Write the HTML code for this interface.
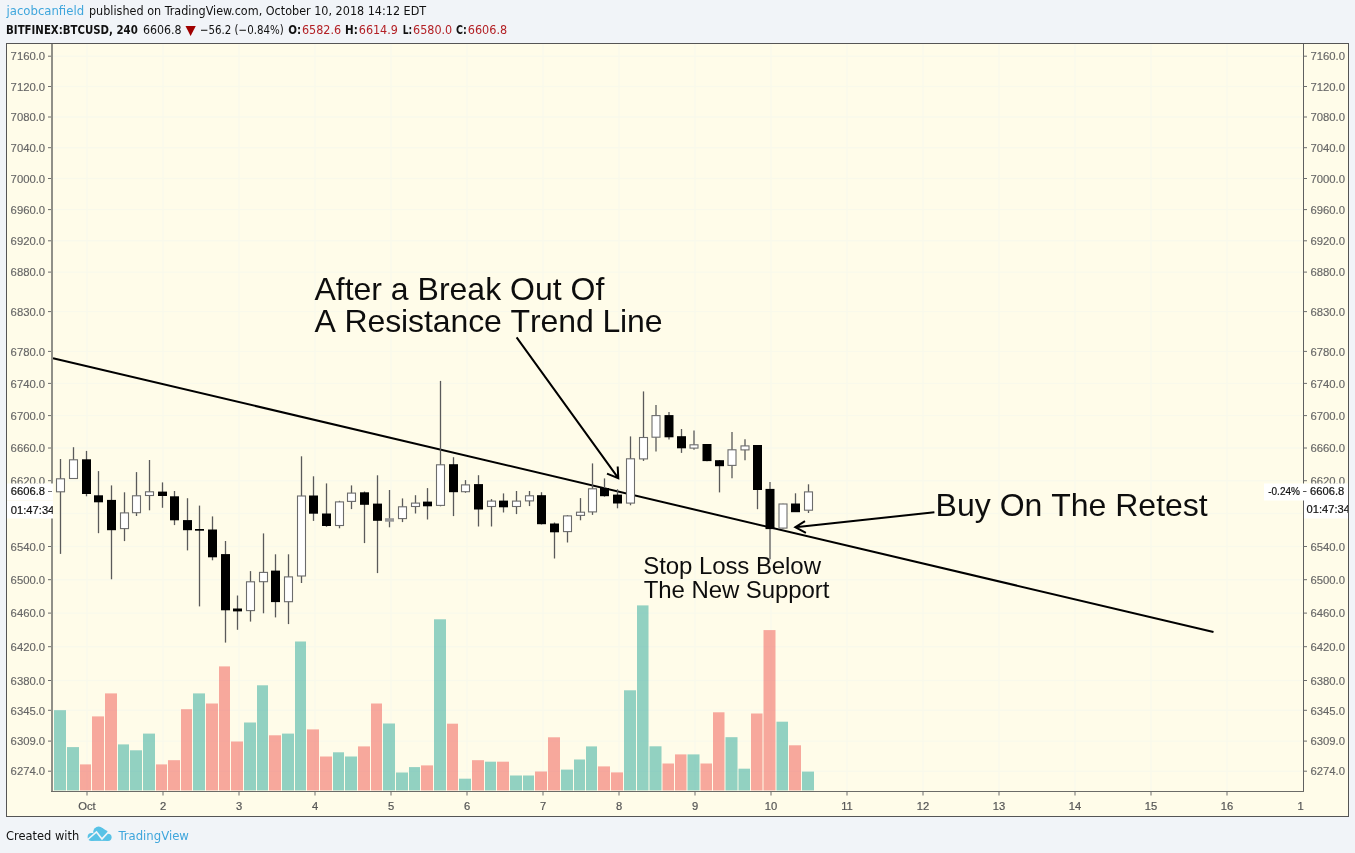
<!DOCTYPE html>
<html><head><meta charset="utf-8"><title>BTCUSD chart</title>
<style>html,body{margin:0;padding:0;background:#f1f4f8;}body{width:1355px;height:853px;position:relative;overflow:hidden;font-family:"Liberation Sans",Arial,sans-serif}</style>
</head><body>
<svg width="1355" height="853" viewBox="0 0 1355 853" style="position:absolute;left:0;top:0;display:block">
<rect width="1355" height="853" fill="#f1f4f8"/>
<defs><filter id="soft" filterUnits="userSpaceOnUse" x="0" y="36" width="1355" height="790"><feGaussianBlur stdDeviation="0.33"/></filter></defs>
<g filter="url(#soft)">
<rect x="6.5" y="43.5" width="1342" height="773" fill="#fffce9" stroke="#555" stroke-width="1"/>
<path d="M53 56.2H1303.5 M53 86.5H1303.5 M53 117.0H1303.5 M53 147.7H1303.5 M53 178.5H1303.5 M53 209.6H1303.5 M53 240.8H1303.5 M53 272.1H1303.5 M53 311.6H1303.5 M53 351.4H1303.5 M53 383.4H1303.5 M53 415.6H1303.5 M53 448.0H1303.5 M53 480.7H1303.5 M53 546.5H1303.5 M53 579.7H1303.5 M53 613.1H1303.5 M53 646.7H1303.5 M53 680.5H1303.5 M53 710.3H1303.5 M53 741.1H1303.5 M53 771.2H1303.5 M53 513.5H1303.5 M87.0 44V791 M163.0 44V791 M239.0 44V791 M315.0 44V791 M391.0 44V791 M467.0 44V791 M543.0 44V791 M619.0 44V791 M695.0 44V791 M771.0 44V791 M847.0 44V791 M923.0 44V791 M999.0 44V791 M1075.0 44V791 M1151.0 44V791 M1227.0 44V791" stroke="#f9f9eb" stroke-width="1.4" fill="none"/>
<rect x="54.0" y="710.2" width="12.0" height="80.2" fill="#26a69a" fill-opacity=".5"/>
<rect x="67.0" y="747.1" width="12.0" height="43.3" fill="#26a69a" fill-opacity=".5"/>
<rect x="80.0" y="764.4" width="11.0" height="26.0" fill="#ef5350" fill-opacity=".5"/>
<rect x="92.0" y="716.4" width="12.0" height="74.0" fill="#ef5350" fill-opacity=".5"/>
<rect x="105.0" y="693.4" width="12.0" height="97.0" fill="#ef5350" fill-opacity=".5"/>
<rect x="118.0" y="744.4" width="11.0" height="46.0" fill="#26a69a" fill-opacity=".5"/>
<rect x="130.0" y="750.3" width="12.0" height="40.1" fill="#26a69a" fill-opacity=".5"/>
<rect x="143.0" y="733.6" width="12.0" height="56.8" fill="#26a69a" fill-opacity=".5"/>
<rect x="156.0" y="764.4" width="11.0" height="26.0" fill="#ef5350" fill-opacity=".5"/>
<rect x="168.0" y="760.2" width="12.0" height="30.2" fill="#ef5350" fill-opacity=".5"/>
<rect x="181.0" y="709.2" width="11.0" height="81.2" fill="#ef5350" fill-opacity=".5"/>
<rect x="193.0" y="693.4" width="12.0" height="97.0" fill="#26a69a" fill-opacity=".5"/>
<rect x="206.0" y="703.5" width="12.0" height="86.9" fill="#ef5350" fill-opacity=".5"/>
<rect x="219.0" y="666.4" width="11.0" height="124.0" fill="#ef5350" fill-opacity=".5"/>
<rect x="231.0" y="741.5" width="12.0" height="48.9" fill="#ef5350" fill-opacity=".5"/>
<rect x="244.0" y="722.5" width="12.0" height="67.9" fill="#26a69a" fill-opacity=".5"/>
<rect x="257.0" y="685.3" width="11.0" height="105.1" fill="#26a69a" fill-opacity=".5"/>
<rect x="269.0" y="735.3" width="12.0" height="55.1" fill="#ef5350" fill-opacity=".5"/>
<rect x="282.0" y="733.6" width="12.0" height="56.8" fill="#26a69a" fill-opacity=".5"/>
<rect x="295.0" y="641.5" width="11.0" height="148.9" fill="#26a69a" fill-opacity=".5"/>
<rect x="307.0" y="729.4" width="12.0" height="61.0" fill="#ef5350" fill-opacity=".5"/>
<rect x="320.0" y="756.5" width="12.0" height="33.9" fill="#ef5350" fill-opacity=".5"/>
<rect x="333.0" y="752.3" width="11.0" height="38.1" fill="#26a69a" fill-opacity=".5"/>
<rect x="345.0" y="756.5" width="12.0" height="33.9" fill="#26a69a" fill-opacity=".5"/>
<rect x="358.0" y="746.4" width="12.0" height="44.0" fill="#ef5350" fill-opacity=".5"/>
<rect x="371.0" y="703.5" width="11.0" height="86.9" fill="#ef5350" fill-opacity=".5"/>
<rect x="383.0" y="723.5" width="12.0" height="66.9" fill="#26a69a" fill-opacity=".5"/>
<rect x="396.0" y="772.5" width="12.0" height="17.9" fill="#26a69a" fill-opacity=".5"/>
<rect x="409.0" y="767.1" width="11.0" height="23.3" fill="#26a69a" fill-opacity=".5"/>
<rect x="421.0" y="765.4" width="12.0" height="25.0" fill="#ef5350" fill-opacity=".5"/>
<rect x="434.0" y="619.3" width="12.0" height="171.1" fill="#26a69a" fill-opacity=".5"/>
<rect x="447.0" y="723.7" width="11.0" height="66.7" fill="#ef5350" fill-opacity=".5"/>
<rect x="459.0" y="778.7" width="12.0" height="11.7" fill="#26a69a" fill-opacity=".5"/>
<rect x="472.0" y="760.2" width="12.0" height="30.2" fill="#ef5350" fill-opacity=".5"/>
<rect x="485.0" y="761.7" width="11.0" height="28.7" fill="#26a69a" fill-opacity=".5"/>
<rect x="497.0" y="761.7" width="12.0" height="28.7" fill="#ef5350" fill-opacity=".5"/>
<rect x="510.0" y="775.5" width="12.0" height="14.9" fill="#26a69a" fill-opacity=".5"/>
<rect x="523.0" y="775.5" width="11.0" height="14.9" fill="#26a69a" fill-opacity=".5"/>
<rect x="535.0" y="771.5" width="12.0" height="18.9" fill="#ef5350" fill-opacity=".5"/>
<rect x="548.0" y="737.3" width="12.0" height="53.1" fill="#ef5350" fill-opacity=".5"/>
<rect x="561.0" y="769.6" width="12.0" height="20.8" fill="#26a69a" fill-opacity=".5"/>
<rect x="574.0" y="759.5" width="11.0" height="30.9" fill="#26a69a" fill-opacity=".5"/>
<rect x="586.0" y="746.4" width="11.0" height="44.0" fill="#26a69a" fill-opacity=".5"/>
<rect x="598.0" y="766.4" width="12.0" height="24.0" fill="#ef5350" fill-opacity=".5"/>
<rect x="611.0" y="772.4" width="12.0" height="18.0" fill="#ef5350" fill-opacity=".5"/>
<rect x="624.0" y="690.3" width="12.0" height="100.1" fill="#26a69a" fill-opacity=".5"/>
<rect x="637.0" y="605.4" width="11.5" height="185.0" fill="#26a69a" fill-opacity=".5"/>
<rect x="649.5" y="746.3" width="12.0" height="44.1" fill="#26a69a" fill-opacity=".5"/>
<rect x="662.5" y="763.5" width="11.5" height="26.9" fill="#ef5350" fill-opacity=".5"/>
<rect x="675.0" y="754.4" width="11.5" height="36.0" fill="#ef5350" fill-opacity=".5"/>
<rect x="687.5" y="754.4" width="12.0" height="36.0" fill="#26a69a" fill-opacity=".5"/>
<rect x="700.5" y="763.5" width="11.5" height="26.9" fill="#ef5350" fill-opacity=".5"/>
<rect x="713.0" y="712.3" width="11.5" height="78.1" fill="#ef5350" fill-opacity=".5"/>
<rect x="725.5" y="737.2" width="12.0" height="53.2" fill="#26a69a" fill-opacity=".5"/>
<rect x="738.5" y="768.7" width="11.5" height="21.7" fill="#26a69a" fill-opacity=".5"/>
<rect x="751.0" y="713.5" width="11.5" height="76.9" fill="#ef5350" fill-opacity=".5"/>
<rect x="763.5" y="630.1" width="12.0" height="160.3" fill="#ef5350" fill-opacity=".5"/>
<rect x="776.5" y="721.7" width="11.5" height="68.7" fill="#26a69a" fill-opacity=".5"/>
<rect x="789.0" y="745.3" width="12.0" height="45.1" fill="#ef5350" fill-opacity=".5"/>
<rect x="802.0" y="771.6" width="12.0" height="18.8" fill="#26a69a" fill-opacity=".5"/>
<g stroke="#000" stroke-width="2" fill="none" stroke-linecap="butt">
<path d="M53 358.2L1213.5 632"/>
<path d="M516.6 337.4L618.3 478.2M617.7 466.5L618.3 478.2L607 473.6"/>
<path d="M934.4 512.2L795.3 527.2M805 521.2L795.3 527.2L805.9 532.8"/>
</g>
<g font-family="'Liberation Sans',Arial,sans-serif" fill="#111" style="font-kerning:none">
<text x="314.4" y="299.8" font-size="32">After a Break Out Of</text>
<text x="314.4" y="331.8" font-size="32" letter-spacing="-0.1">A Resistance Trend Line</text>
<text x="935.6" y="515.8" font-size="32">Buy On The Retest</text>
<text x="643.2" y="573.7" font-size="24" letter-spacing="-0.07">Stop Loss Below</text>
<text x="643.8" y="597.6" font-size="24" letter-spacing="-0.09">The New Support</text>
</g>
<path d="M60.5 459.0V553.9" stroke="#5a5a5a" stroke-width="1.3"/>
<rect x="56.5" y="478.8" width="8" height="13.0" fill="#fff" stroke="#6c6c6c" stroke-width="1.1"/>
<path d="M73.5 447.2V478.8" stroke="#5a5a5a" stroke-width="1.3"/>
<rect x="69.5" y="459.8" width="8" height="18.7" fill="#fff" stroke="#6c6c6c" stroke-width="1.1"/>
<path d="M86.5 450.9V496.3" stroke="#5a5a5a" stroke-width="1.3"/>
<rect x="82.0" y="459.3" width="9" height="34.7" fill="#000"/>
<path d="M98.5 471.1V533.2" stroke="#5a5a5a" stroke-width="1.3"/>
<rect x="94.0" y="495.3" width="9" height="7.0" fill="#000"/>
<path d="M111.5 485.4V579.3" stroke="#5a5a5a" stroke-width="1.3"/>
<rect x="107.0" y="499.9" width="9" height="30.3" fill="#000"/>
<path d="M124.5 492.3V541.1" stroke="#5a5a5a" stroke-width="1.3"/>
<rect x="120.5" y="512.9" width="8" height="15.7" fill="#fff" stroke="#6c6c6c" stroke-width="1.1"/>
<path d="M136.5 472.1V516.0" stroke="#5a5a5a" stroke-width="1.3"/>
<rect x="132.5" y="495.8" width="8" height="16.9" fill="#fff" stroke="#6c6c6c" stroke-width="1.1"/>
<path d="M149.5 460.0V510.3" stroke="#5a5a5a" stroke-width="1.3"/>
<rect x="145.5" y="491.8" width="8" height="3.7" fill="#fff" stroke="#6c6c6c" stroke-width="1.1"/>
<path d="M162.5 482.4V507.8" stroke="#5a5a5a" stroke-width="1.3"/>
<rect x="158.0" y="491.6" width="9" height="4.4" fill="#000"/>
<path d="M174.5 491.0V525.1" stroke="#5a5a5a" stroke-width="1.3"/>
<rect x="170.0" y="496.3" width="9" height="24.0" fill="#000"/>
<path d="M187.5 498.2V550.4" stroke="#5a5a5a" stroke-width="1.3"/>
<rect x="183.0" y="520.1" width="9" height="10.1" fill="#000"/>
<path d="M199.5 505.6V606.4" stroke="#5a5a5a" stroke-width="1.3"/>
<rect x="195.0" y="529.0" width="9" height="1.7" fill="#000"/>
<path d="M212.5 516.4V560.3" stroke="#5a5a5a" stroke-width="1.3"/>
<rect x="208.0" y="529.5" width="9" height="27.8" fill="#000"/>
<path d="M225.5 541.0V642.6" stroke="#5a5a5a" stroke-width="1.3"/>
<rect x="221.0" y="554.1" width="9" height="56.2" fill="#000"/>
<path d="M237.5 595.5V629.8" stroke="#5a5a5a" stroke-width="1.3"/>
<rect x="233.0" y="608.5" width="9" height="2.9" fill="#000"/>
<path d="M250.5 571.1V621.6" stroke="#5a5a5a" stroke-width="1.3"/>
<rect x="246.5" y="581.8" width="8" height="28.8" fill="#fff" stroke="#6c6c6c" stroke-width="1.1"/>
<path d="M263.5 533.4V613.3" stroke="#5a5a5a" stroke-width="1.3"/>
<rect x="259.5" y="572.4" width="8" height="9.3" fill="#fff" stroke="#6c6c6c" stroke-width="1.1"/>
<path d="M275.5 554.3V617.4" stroke="#5a5a5a" stroke-width="1.3"/>
<rect x="271.0" y="570.6" width="9" height="31.5" fill="#000"/>
<path d="M288.5 554.3V624.1" stroke="#5a5a5a" stroke-width="1.3"/>
<rect x="284.5" y="576.9" width="8" height="24.8" fill="#fff" stroke="#6c6c6c" stroke-width="1.1"/>
<path d="M301.5 456.3V583.0" stroke="#5a5a5a" stroke-width="1.3"/>
<rect x="297.5" y="496.0" width="8" height="80.0" fill="#fff" stroke="#6c6c6c" stroke-width="1.1"/>
<path d="M313.5 476.3V520.9" stroke="#5a5a5a" stroke-width="1.3"/>
<rect x="309.0" y="495.5" width="9" height="18.2" fill="#000"/>
<path d="M326.5 483.4V526.8" stroke="#5a5a5a" stroke-width="1.3"/>
<rect x="322.0" y="513.5" width="9" height="12.5" fill="#000"/>
<path d="M339.5 500.8V528.3" stroke="#5a5a5a" stroke-width="1.3"/>
<rect x="335.5" y="501.9" width="8" height="23.6" fill="#fff" stroke="#6c6c6c" stroke-width="1.1"/>
<path d="M351.5 485.4V509.1" stroke="#5a5a5a" stroke-width="1.3"/>
<rect x="347.5" y="493.1" width="8" height="8.3" fill="#fff" stroke="#6c6c6c" stroke-width="1.1"/>
<path d="M364.5 491.5V543.1" stroke="#5a5a5a" stroke-width="1.3"/>
<rect x="360.0" y="492.3" width="9" height="12.5" fill="#000"/>
<path d="M377.5 475.3V573.1" stroke="#5a5a5a" stroke-width="1.3"/>
<rect x="373.0" y="503.6" width="9" height="17.2" fill="#000"/>
<path d="M389.5 490.0V527.3" stroke="#5a5a5a" stroke-width="1.3"/>
<rect x="385.0" y="518.2" width="9" height="3.5" fill="#9a9a9a"/>
<path d="M402.5 498.4V522.1" stroke="#5a5a5a" stroke-width="1.3"/>
<rect x="398.5" y="506.8" width="8" height="11.8" fill="#fff" stroke="#6c6c6c" stroke-width="1.1"/>
<path d="M415.5 495.2V513.5" stroke="#5a5a5a" stroke-width="1.3"/>
<rect x="411.5" y="503.1" width="8" height="3.4" fill="#fff" stroke="#6c6c6c" stroke-width="1.1"/>
<path d="M427.5 488.1V519.5" stroke="#5a5a5a" stroke-width="1.3"/>
<rect x="423.0" y="501.6" width="9" height="4.7" fill="#000"/>
<path d="M440.5 380.9V506.3" stroke="#5a5a5a" stroke-width="1.3"/>
<rect x="436.5" y="464.8" width="8" height="40.6" fill="#fff" stroke="#6c6c6c" stroke-width="1.1"/>
<path d="M453.5 457.2V516.1" stroke="#5a5a5a" stroke-width="1.3"/>
<rect x="449.0" y="464.2" width="9" height="28.0" fill="#000"/>
<path d="M465.5 480.1V492.8" stroke="#5a5a5a" stroke-width="1.3"/>
<rect x="461.5" y="484.9" width="8" height="6.8" fill="#fff" stroke="#6c6c6c" stroke-width="1.1"/>
<path d="M478.5 475.2V526.5" stroke="#5a5a5a" stroke-width="1.3"/>
<rect x="474.0" y="484.1" width="9" height="25.4" fill="#000"/>
<path d="M491.5 499.1V526.5" stroke="#5a5a5a" stroke-width="1.3"/>
<rect x="487.5" y="501.1" width="8" height="5.4" fill="#fff" stroke="#6c6c6c" stroke-width="1.1"/>
<path d="M503.5 493.4V512.5" stroke="#5a5a5a" stroke-width="1.3"/>
<rect x="499.0" y="500.6" width="9" height="6.7" fill="#000"/>
<path d="M516.5 491.0V514.1" stroke="#5a5a5a" stroke-width="1.3"/>
<rect x="512.5" y="501.1" width="8" height="5.4" fill="#fff" stroke="#6c6c6c" stroke-width="1.1"/>
<path d="M529.5 491.0V506.1" stroke="#5a5a5a" stroke-width="1.3"/>
<rect x="525.5" y="495.8" width="8" height="5.1" fill="#fff" stroke="#6c6c6c" stroke-width="1.1"/>
<path d="M541.5 492.2V524.5" stroke="#5a5a5a" stroke-width="1.3"/>
<rect x="537.0" y="495.2" width="9" height="29.0" fill="#000"/>
<path d="M554.5 522.5V558.5" stroke="#5a5a5a" stroke-width="1.3"/>
<rect x="550.0" y="523.5" width="9" height="8.8" fill="#000"/>
<path d="M567.5 515.1V542.5" stroke="#5a5a5a" stroke-width="1.3"/>
<rect x="563.5" y="515.9" width="8" height="15.7" fill="#fff" stroke="#6c6c6c" stroke-width="1.1"/>
<path d="M580.5 498.1V520.3" stroke="#5a5a5a" stroke-width="1.3"/>
<rect x="576.5" y="512.2" width="8" height="3.2" fill="#fff" stroke="#6c6c6c" stroke-width="1.1"/>
<path d="M592.5 463.4V514.9" stroke="#5a5a5a" stroke-width="1.3"/>
<rect x="588.5" y="488.8" width="8" height="23.1" fill="#fff" stroke="#6c6c6c" stroke-width="1.1"/>
<path d="M604.5 478.4V496.7" stroke="#5a5a5a" stroke-width="1.3"/>
<rect x="600.0" y="488.0" width="9" height="8.2" fill="#000"/>
<path d="M617.5 489.2V508.3" stroke="#5a5a5a" stroke-width="1.3"/>
<rect x="613.0" y="494.6" width="9" height="8.9" fill="#000"/>
<path d="M630.5 436.4V505.3" stroke="#5a5a5a" stroke-width="1.3"/>
<rect x="626.5" y="458.8" width="8" height="44.3" fill="#fff" stroke="#6c6c6c" stroke-width="1.1"/>
<path d="M643.5 391.4V460.9" stroke="#5a5a5a" stroke-width="1.3"/>
<rect x="639.5" y="437.5" width="8" height="21.4" fill="#fff" stroke="#6c6c6c" stroke-width="1.1"/>
<path d="M656 405.1V451.4" stroke="#5a5a5a" stroke-width="1.3"/>
<rect x="652" y="415.6" width="8" height="21.6" fill="#fff" stroke="#6c6c6c" stroke-width="1.1"/>
<path d="M669 412.1V439.6" stroke="#5a5a5a" stroke-width="1.3"/>
<rect x="664.5" y="415.1" width="9" height="22.2" fill="#000"/>
<path d="M681.5 429.0V452.9" stroke="#5a5a5a" stroke-width="1.3"/>
<rect x="677.0" y="436.2" width="9" height="12.1" fill="#000"/>
<path d="M694 430.4V449.7" stroke="#5a5a5a" stroke-width="1.3"/>
<rect x="690" y="444.8" width="8" height="3.3" fill="#fff" stroke="#6c6c6c" stroke-width="1.1"/>
<path d="M707 444.2V461.3" stroke="#5a5a5a" stroke-width="1.3"/>
<rect x="702.5" y="444.0" width="9" height="17.1" fill="#000"/>
<path d="M719.5 460.0V492.4" stroke="#5a5a5a" stroke-width="1.3"/>
<rect x="715.0" y="460.2" width="9" height="6.0" fill="#000"/>
<path d="M732 432.1V478.2" stroke="#5a5a5a" stroke-width="1.3"/>
<rect x="728" y="449.8" width="8" height="15.6" fill="#fff" stroke="#6c6c6c" stroke-width="1.1"/>
<path d="M745 439.3V460.3" stroke="#5a5a5a" stroke-width="1.3"/>
<rect x="741" y="445.9" width="8" height="4.0" fill="#fff" stroke="#6c6c6c" stroke-width="1.1"/>
<path d="M757.5 445.2V509.2" stroke="#5a5a5a" stroke-width="1.3"/>
<rect x="753.0" y="445.0" width="9" height="45.0" fill="#000"/>
<path d="M770 482.1V559.2" stroke="#5a5a5a" stroke-width="1.3"/>
<rect x="765.5" y="488.9" width="9" height="40.2" fill="#000"/>
<path d="M783 503.7V528.4" stroke="#5a5a5a" stroke-width="1.3"/>
<rect x="779" y="504.0" width="8" height="24.1" fill="#fff" stroke="#6c6c6c" stroke-width="1.1"/>
<path d="M795.5 493.3V512.0" stroke="#5a5a5a" stroke-width="1.3"/>
<rect x="791.0" y="503.5" width="9" height="8.7" fill="#000"/>
<path d="M808.5 484.3V513.0" stroke="#5a5a5a" stroke-width="1.3"/>
<rect x="804.5" y="491.9" width="8" height="18.3" fill="#fff" stroke="#6c6c6c" stroke-width="1.1"/>
<rect x="51" y="44" width="2" height="748" fill="#909088"/>
<path d="M1303.5 44V792" stroke="#606060" stroke-width="1"/>
<path d="M51 791.5H1304.0" stroke="#6c6c68" stroke-width="1.2"/>
<path d="M48 56.2H51M1303.5 56.2H1307.0 M48 86.5H51M1303.5 86.5H1307.0 M48 117.0H51M1303.5 117.0H1307.0 M48 147.7H51M1303.5 147.7H1307.0 M48 178.5H51M1303.5 178.5H1307.0 M48 209.6H51M1303.5 209.6H1307.0 M48 240.8H51M1303.5 240.8H1307.0 M48 272.1H51M1303.5 272.1H1307.0 M48 311.6H51M1303.5 311.6H1307.0 M48 351.4H51M1303.5 351.4H1307.0 M48 383.4H51M1303.5 383.4H1307.0 M48 415.6H51M1303.5 415.6H1307.0 M48 448.0H51M1303.5 448.0H1307.0 M48 480.7H51M1303.5 480.7H1307.0 M48 546.5H51M1303.5 546.5H1307.0 M48 579.7H51M1303.5 579.7H1307.0 M48 613.1H51M1303.5 613.1H1307.0 M48 646.7H51M1303.5 646.7H1307.0 M48 680.5H51M1303.5 680.5H1307.0 M48 710.3H51M1303.5 710.3H1307.0 M48 741.1H51M1303.5 741.1H1307.0 M48 771.2H51M1303.5 771.2H1307.0 M87.0 792V795.5 M163.0 792V795.5 M239.0 792V795.5 M315.0 792V795.5 M391.0 792V795.5 M467.0 792V795.5 M543.0 792V795.5 M619.0 792V795.5 M695.0 792V795.5 M771.0 792V795.5 M847.0 792V795.5 M923.0 792V795.5 M999.0 792V795.5 M1075.0 792V795.5 M1151.0 792V795.5 M1227.0 792V795.5" stroke="#6e6e6e" stroke-width="1" fill="none"/>
<g font-family="'Liberation Sans',Arial,sans-serif" font-size="11.3" fill="#666" stroke="#666" stroke-width="0.15">
<text x="10.6" y="60.400000000000006">7160.0</text>
<text x="1310.4" y="60.400000000000006">7160.0</text>
<text x="10.6" y="90.72500928494937">7120.0</text>
<text x="1310.4" y="90.72500928494937">7120.0</text>
<text x="10.6" y="121.22086459386911">7080.0</text>
<text x="1310.4" y="121.22086459386911">7080.0</text>
<text x="10.6" y="151.8895018744914">7040.0</text>
<text x="1310.4" y="151.8895018744914">7040.0</text>
<text x="10.6" y="182.73289016802548">7000.0</text>
<text x="1310.4" y="182.73289016802548">7000.0</text>
<text x="10.6" y="213.75303236776125">6960.0</text>
<text x="1310.4" y="213.75303236776125">6960.0</text>
<text x="10.6" y="244.95196599952982">6920.0</text>
<text x="1310.4" y="244.95196599952982">6920.0</text>
<text x="10.6" y="276.33176402478585">6880.0</text>
<text x="1310.4" y="276.33176402478585">6880.0</text>
<text x="10.6" y="315.81406890128767">6830.0</text>
<text x="1310.4" y="315.81406890128767">6830.0</text>
<text x="10.6" y="355.58647413661356">6780.0</text>
<text x="1310.4" y="355.58647413661356">6780.0</text>
<text x="10.6" y="387.6161533896569">6740.0</text>
<text x="1310.4" y="387.6161533896569">6740.0</text>
<text x="10.6" y="419.83648661790573">6700.0</text>
<text x="1310.4" y="419.83648661790573">6700.0</text>
<text x="10.6" y="452.24975712284817">6660.0</text>
<text x="1310.4" y="452.24975712284817">6660.0</text>
<text x="10.6" y="484.8582894709497">6620.0</text>
<text x="1310.4" y="484.8582894709497">6620.0</text>
<text x="10.6" y="550.6706503201583">6540.0</text>
<text x="1310.4" y="550.6706503201583">6540.0</text>
<text x="10.6" y="583.879343436122">6500.0</text>
<text x="1310.4" y="583.879343436122">6500.0</text>
<text x="10.6" y="617.2930297827505">6460.0</text>
<text x="1310.4" y="617.2930297827505">6460.0</text>
<text x="10.6" y="650.9142558842144">6420.0</text>
<text x="1310.4" y="650.9142558842144">6420.0</text>
<text x="10.6" y="684.7456160126276">6380.0</text>
<text x="1310.4" y="684.7456160126276">6380.0</text>
<text x="10.6" y="714.5225083909787">6345.0</text>
<text x="1310.4" y="714.5225083909787">6345.0</text>
<text x="10.6" y="745.3220224955528">6309.0</text>
<text x="1310.4" y="745.3220224955528">6309.0</text>
<text x="10.6" y="775.4349508276189">6274.0</text>
<text x="1310.4" y="775.4349508276189">6274.0</text>
</g>
<g font-family="'Liberation Sans',Arial,sans-serif" font-size="11.2" fill="#555" stroke="#555" stroke-width="0.2" text-anchor="middle">
<text x="87.0" y="809.5">Oct</text>
<text x="163.0" y="809.5">2</text>
<text x="239.0" y="809.5">3</text>
<text x="315.0" y="809.5">4</text>
<text x="391.0" y="809.5">5</text>
<text x="467.0" y="809.5">6</text>
<text x="543.0" y="809.5">7</text>
<text x="619.0" y="809.5">8</text>
<text x="695.0" y="809.5">9</text>
<text x="771.0" y="809.5">10</text>
<text x="847.0" y="809.5">11</text>
<text x="923.0" y="809.5">12</text>
<text x="999.0" y="809.5">13</text>
<text x="1075.0" y="809.5">14</text>
<text x="1151.0" y="809.5">15</text>
<text x="1227.0" y="809.5">16</text>
<text x="1300.5" y="809.5">1</text>
</g>
<rect x="7" y="483.5" width="46" height="35" fill="#fff"/>
<path d="M7 500.4H52.8" stroke="#fcfaee" stroke-width="1"/>
<path d="M48 491.5H52" stroke="#777" stroke-width="1"/>
<rect x="1264" y="483.5" width="40" height="17" fill="#fff"/>
<rect x="1304" y="483.5" width="44" height="35" fill="#fff"/>
<path d="M1303 491.5H1306.5" stroke="#555" stroke-width="1"/>
<g font-family="'Liberation Sans',Arial,sans-serif" font-size="11.2" fill="#111" stroke="#111" stroke-width="0.2">
<text x="10.8" y="495.2">6606.8</text>
<svg x="7" y="501" width="45.8" height="17" viewBox="0 0 45.8 17" overflow="hidden"><text x="3.8" y="12.5">01:47:34</text></svg>
<text x="1268.2" y="495.2" textLength="31.8" lengthAdjust="spacingAndGlyphs">-0.24%</text>
<text x="1310" y="495.2">6606.8</text>
<svg x="1304" y="501" width="44" height="17" viewBox="0 0 44.3 17" overflow="hidden"><text x="2.6" y="12.5">01:47:34</text></svg>
</g>
</g>
<g font-family="'DejaVu Sans Condensed','DejaVu Sans','Liberation Sans',sans-serif" font-size="12.6">
<text x="6.5" y="15.4" textLength="77.6" lengthAdjust="spacingAndGlyphs" fill="#3fa6dc">jacobcanfield</text>
<text x="89.0" y="15.4" textLength="337.2" lengthAdjust="spacingAndGlyphs" fill="#111">published on TradingView.com, October 10, 2018 14:12 EDT</text>
<text x="6.1" y="34" textLength="131.7" lengthAdjust="spacingAndGlyphs" fill="#111" font-weight="bold">BITFINEX:BTCUSD, 240</text>
<text x="143.0" y="34" textLength="38.6" lengthAdjust="spacingAndGlyphs" fill="#111">6606.8</text>
<path d="M185.5 26H195.8L190.6 36Z" fill="#a00000"/>
<text x="199.9" y="34" textLength="83.8" lengthAdjust="spacingAndGlyphs" fill="#111">−56.2 (−0.84%)</text>
<text x="288.2" y="34" textLength="12.9" lengthAdjust="spacingAndGlyphs" fill="#111" font-weight="bold">O:</text>
<text x="301.9" y="34" textLength="39.2" lengthAdjust="spacingAndGlyphs" fill="#b32025">6582.6</text>
<text x="345.1" y="34" textLength="12.8" lengthAdjust="spacingAndGlyphs" fill="#111" font-weight="bold">H:</text>
<text x="358.8" y="34" textLength="39.1" lengthAdjust="spacingAndGlyphs" fill="#b32025">6614.9</text>
<text x="402.7" y="34" textLength="9.4" lengthAdjust="spacingAndGlyphs" fill="#111" font-weight="bold">L:</text>
<text x="413.0" y="34" textLength="39.2" lengthAdjust="spacingAndGlyphs" fill="#b32025">6580.0</text>
<text x="456.1" y="34" textLength="10.8" lengthAdjust="spacingAndGlyphs" fill="#111" font-weight="bold">C:</text>
<text x="467.8" y="34" textLength="39.4" lengthAdjust="spacingAndGlyphs" fill="#b32025">6606.8</text>
</g>
<g font-family="'DejaVu Sans Condensed','DejaVu Sans','Liberation Sans',sans-serif" font-size="12.6">
<text x="6.1" y="839.6" textLength="73.2" lengthAdjust="spacingAndGlyphs" fill="#111">Created with</text>
<text x="118.5" y="839.6" textLength="70.4" lengthAdjust="spacingAndGlyphs" fill="#3fa6dc">TradingView</text>
</g>
<g fill="#58c2e6">
<circle cx="91.6" cy="836.9" r="4"/><circle cx="98.6" cy="832" r="5.4"/><circle cx="105.6" cy="833" r="2.4"/><path d="M101.6 827.6L106.6 830.8L104 835H98Z"/><circle cx="108" cy="837.3" r="3.6"/><rect x="91.6" y="833.5" width="16.4" height="7.4"/>
<path d="M87.2 840L96.5 831.9L102 838.9L109.6 830.7" stroke="#f1f4f8" stroke-width="1.6" fill="none" stroke-linejoin="miter"/>
</g>
</svg>
</body></html>
